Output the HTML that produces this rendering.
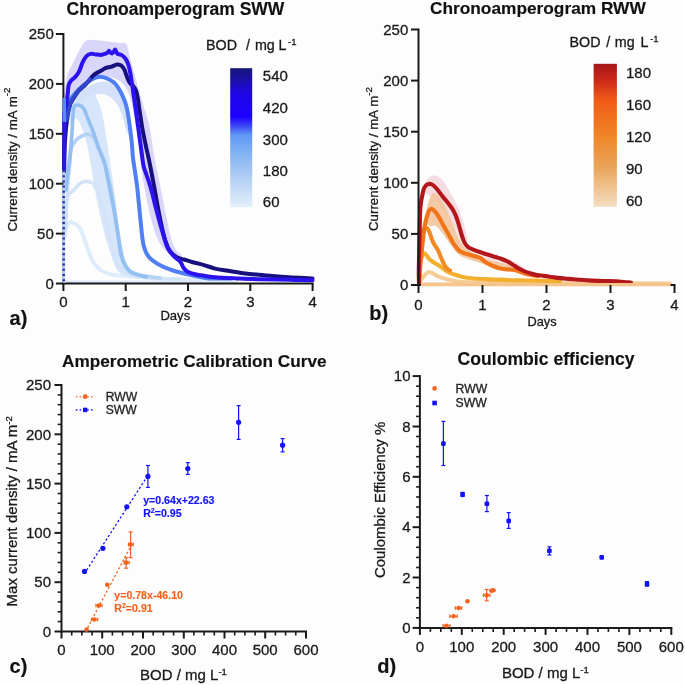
<!DOCTYPE html>
<html><head><meta charset="utf-8"><style>
html,body{margin:0;padding:0;background:#fff;}
svg{display:block;font-family:"Liberation Sans", sans-serif;filter:blur(0.45px);}
</style></head><body>
<svg width="685" height="685" viewBox="0 0 685 685">
<rect width="685" height="685" fill="#fdfdfd"/>
<text x="66.6" y="15.2" font-size="17.5" text-anchor="start" font-weight="bold" fill="#111" stroke="#111" stroke-width="0.15" >Chronoamperogram SWW</text>
<text x="430.0" y="14.0" font-size="17.3" text-anchor="start" font-weight="bold" fill="#111" stroke="#111" stroke-width="0.15" >Chronoamperogram RWW</text>
<text x="62.0" y="366.6" font-size="17.2" text-anchor="start" font-weight="bold" fill="#111" stroke="#111" stroke-width="0.15" >Amperometric Calibration Curve</text>
<text x="457.6" y="365.0" font-size="17.6" text-anchor="start" font-weight="bold" fill="#111" stroke="#111" stroke-width="0.15" >Coulombic efficiency</text>
<path d="M64.0,100.0 C63.8,94.5 65.3,86.5 66.0,82.0 C66.7,77.5 66.5,76.9 68.0,73.0 C69.5,69.1 73.2,62.5 75.2,58.5 C77.2,54.5 78.4,51.9 80.0,49.0 C81.6,46.1 82.7,42.9 84.7,41.4 C86.7,39.9 89.8,40.0 92.0,39.8 C94.2,39.6 95.7,40.0 98.0,40.2 C100.3,40.5 103.5,40.9 106.0,41.3 C108.5,41.6 110.8,42.0 113.1,42.3 C115.4,42.6 117.8,42.6 120.0,43.0 C122.2,43.4 124.7,41.9 126.4,44.5 C128.1,47.1 128.6,52.7 130.2,58.5 C131.8,64.3 133.7,71.4 135.9,79.3 C138.1,87.2 141.3,98.3 143.5,105.9 C145.7,113.5 147.3,115.9 149.2,124.9 C151.1,133.9 153.3,150.8 154.9,160.0 C156.5,169.2 157.7,173.3 159.0,180.0 C160.3,186.7 161.7,193.3 163.0,200.0 C164.3,206.7 165.7,213.7 167.0,220.0 C168.3,226.3 169.5,233.0 171.0,238.0 C172.5,243.0 174.2,247.0 176.0,250.0 C177.8,253.0 182.0,254.7 182.0,256.0 C182.0,257.3 178.5,258.7 176.0,258.0 C173.5,257.3 170.0,255.0 167.0,252.0 C164.0,249.0 160.8,246.2 158.0,240.0 C155.2,233.8 152.3,224.2 150.0,215.0 C147.7,205.8 145.8,195.0 144.0,185.0 C142.2,175.0 140.8,164.5 139.5,155.0 C138.2,145.5 137.3,136.8 136.0,128.0 C134.7,119.2 133.2,108.7 131.5,102.0 C129.8,95.3 128.2,91.7 126.0,88.0 C123.8,84.3 121.0,81.9 118.0,80.0 C115.0,78.1 111.0,77.0 108.0,76.5 C105.0,76.0 103.0,76.1 100.0,77.0 C97.0,77.9 93.3,79.8 90.0,82.0 C86.7,84.2 83.0,87.0 80.0,90.0 C77.0,93.0 74.2,95.8 72.0,100.0 C69.8,104.2 68.3,115.0 67.0,115.0 C65.7,115.0 64.2,105.5 64.0,100.0Z" fill="#d3cff9" fill-opacity="0.85" stroke="none"/>
<path d="M66.0,118.0 C66.3,115.3 68.2,109.8 70.0,106.0 C71.8,102.2 74.3,98.0 77.0,95.0 C79.7,92.0 82.8,90.0 86.0,88.0 C89.2,86.0 92.7,84.0 96.0,83.0 C99.3,82.0 102.8,81.5 106.0,82.0 C109.2,82.5 112.5,84.0 115.0,86.0 C117.5,88.0 119.3,91.0 121.0,94.0 C122.7,97.0 123.8,100.0 125.0,104.0 C126.2,108.0 127.2,112.8 128.0,118.0 C128.8,123.2 130.2,132.7 130.0,135.0 C129.8,137.3 128.3,135.3 127.0,132.0 C125.7,128.7 123.7,119.7 122.0,115.0 C120.3,110.3 119.0,107.0 117.0,104.0 C115.0,101.0 112.5,98.7 110.0,97.0 C107.5,95.3 105.0,94.2 102.0,94.0 C99.0,93.8 95.3,94.7 92.0,96.0 C88.7,97.3 85.0,99.5 82.0,102.0 C79.0,104.5 76.3,107.7 74.0,111.0 C71.7,114.3 69.3,120.8 68.0,122.0 C66.7,123.2 65.7,120.7 66.0,118.0Z" fill="#c3d3f8" fill-opacity="0.7" stroke="none"/>
<path d="M70.0,112.0 C70.5,107.8 72.3,102.8 74.0,100.0 C75.7,97.2 77.7,96.7 80.0,95.5 C82.3,94.3 85.7,93.2 88.0,93.0 C90.3,92.8 92.2,92.3 94.0,94.0 C95.8,95.7 97.5,99.0 99.0,103.0 C100.5,107.0 101.8,112.7 103.0,118.0 C104.2,123.3 105.0,128.8 106.0,135.0 C107.0,141.2 108.0,148.3 109.0,155.0 C110.0,161.7 110.9,167.5 112.0,175.0 C113.1,182.5 114.4,191.7 115.5,200.0 C116.6,208.3 117.5,217.0 118.5,225.0 C119.5,233.0 120.4,241.7 121.5,248.0 C122.6,254.3 123.8,259.0 125.0,263.0 C126.2,267.0 129.5,270.2 129.0,272.0 C128.5,273.8 124.2,274.7 122.0,274.0 C119.8,273.3 118.0,271.7 116.0,268.0 C114.0,264.3 112.0,258.0 110.0,252.0 C108.0,246.0 105.8,239.0 104.0,232.0 C102.2,225.0 100.5,217.0 99.0,210.0 C97.5,203.0 96.3,197.5 95.0,190.0 C93.7,182.5 92.3,172.5 91.0,165.0 C89.7,157.5 88.5,151.2 87.0,145.0 C85.5,138.8 83.8,132.5 82.0,128.0 C80.2,123.5 77.8,118.5 76.0,118.0 C74.2,117.5 72.0,126.0 71.0,125.0 C70.0,124.0 69.5,116.2 70.0,112.0Z" fill="#d3e3fa" fill-opacity="0.9" stroke="none"/>
<path d="M65.0,236.0 C65.4,234.2 66.0,227.2 67.2,225.0 C68.4,222.8 70.1,221.8 72.3,222.5 C74.5,223.2 78.0,225.1 80.4,229.0 C82.8,232.9 84.5,240.4 86.6,245.7 C88.6,251.0 90.3,256.9 92.7,261.0 C95.1,265.1 97.8,268.0 100.9,270.2 C104.0,272.4 106.2,273.3 111.1,274.3 C115.9,275.3 121.8,275.6 130.0,276.3 C138.2,277.0 148.3,277.9 160.0,278.5 C171.7,279.1 187.3,279.6 200.0,280.0 C212.7,280.4 230.0,280.8 236.0,281.0" fill="none" stroke="#deebfa" stroke-width="3.8" stroke-opacity="1" stroke-linejoin="round" stroke-linecap="round"/>
<path d="M65.0,215.0 C65.5,211.8 66.6,200.1 68.0,196.0 C69.4,191.9 71.2,192.9 73.3,190.7 C75.4,188.5 77.9,184.5 80.4,183.0 C83.0,181.5 86.4,181.2 88.6,181.5 C90.8,181.8 92.0,182.2 93.7,184.5 C95.4,186.8 97.3,190.4 99.0,195.0 C100.7,199.6 102.3,205.3 104.0,212.0 C105.7,218.7 107.3,227.8 109.0,235.0 C110.7,242.2 112.2,249.5 114.0,255.0 C115.8,260.5 117.3,264.7 120.0,268.0 C122.7,271.3 125.0,273.3 130.0,275.0 C135.0,276.7 141.7,277.2 150.0,278.0 C158.3,278.8 175.0,279.2 180.0,279.5" fill="none" stroke="#d3e4f8" stroke-width="3.6" stroke-opacity="1" stroke-linejoin="round" stroke-linecap="round"/>
<path d="M66.0,230.0 C66.2,225.0 66.5,209.2 67.0,200.0 C67.5,190.8 68.5,181.7 69.0,175.0 C69.5,168.3 69.8,165.8 70.2,160.0 C70.6,154.2 71.3,143.3 71.5,140.0" fill="none" stroke="#cfe1f8" stroke-width="3.0" stroke-opacity="1" stroke-linejoin="round" stroke-linecap="round"/>
<path d="M66.0,185.0 C66.7,179.5 68.9,159.0 70.2,152.0 C71.5,145.0 72.6,145.3 74.0,143.0 C75.4,140.7 76.3,139.4 78.4,138.0 C80.5,136.6 84.4,134.7 86.6,134.3 C88.8,134.0 90.2,134.8 91.7,135.9 C93.2,137.0 94.4,138.6 95.8,141.0 C97.2,143.4 98.6,147.0 99.9,150.2 C101.2,153.4 102.6,156.3 103.9,160.4 C105.2,164.5 106.7,169.2 108.0,175.0 C109.3,180.8 110.7,187.5 112.0,195.0 C113.3,202.5 114.7,211.7 116.0,220.0 C117.3,228.3 118.7,238.0 120.0,245.0 C121.3,252.0 122.3,257.7 124.0,262.0 C125.7,266.3 127.3,268.8 130.0,271.0 C132.7,273.2 135.0,273.8 140.0,275.0 C145.0,276.2 156.7,277.5 160.0,278.0" fill="none" stroke="#b4d2f5" stroke-width="3.6" stroke-opacity="1" stroke-linejoin="round" stroke-linecap="round"/>
<path d="M66.0,190.0 C66.4,186.7 67.8,175.6 68.5,170.0 C69.2,164.4 69.7,162.0 70.2,156.3 C70.8,150.6 71.3,142.8 71.8,135.9 C72.3,129.0 72.6,119.9 73.0,115.0 C73.4,110.1 73.2,108.1 74.3,106.5 C75.4,104.9 77.9,104.9 79.4,105.2 C80.9,105.5 82.3,106.6 83.5,108.3 C84.7,110.0 85.4,112.5 86.6,115.4 C87.8,118.3 89.3,122.3 90.7,125.7 C92.1,129.1 93.5,132.5 94.7,135.9 C95.9,139.3 96.6,142.7 97.8,146.1 C99.0,149.5 100.7,153.2 101.9,156.3 C103.1,159.5 104.0,161.1 105.0,165.0 C106.0,168.9 107.0,175.0 108.0,180.0 C109.0,185.0 110.0,190.0 111.0,195.0 C112.0,200.0 113.0,204.2 114.0,210.0 C115.0,215.8 116.0,222.3 117.2,230.0 C118.4,237.7 119.9,249.9 121.3,255.9 C122.7,261.9 124.0,263.5 125.4,266.1 C126.9,268.7 127.9,270.0 130.0,271.5 C132.1,273.0 135.3,274.1 138.0,275.0 C140.7,275.9 144.7,276.7 146.0,277.0" fill="none" stroke="#93bff1" stroke-width="3.6" stroke-opacity="1" stroke-linejoin="round" stroke-linecap="round"/>
<path d="M64.0,125.0 C64.3,122.7 65.1,115.0 66.0,111.0 C66.9,107.0 67.7,104.0 69.2,101.0 C70.8,98.0 73.1,95.7 75.3,93.2 C77.5,90.7 79.9,88.3 82.5,86.1 C85.1,83.9 88.2,81.5 90.7,80.0 C93.2,78.5 95.6,77.4 97.8,77.0 C100.0,76.6 101.9,76.9 103.9,77.4 C106.0,77.9 108.2,78.9 110.1,80.0 C112.0,81.1 113.7,82.0 115.5,84.0 C117.3,86.0 119.2,89.1 120.8,92.2 C122.4,95.3 124.0,98.9 125.2,102.4 C126.4,105.9 127.0,108.7 127.8,113.0 C128.6,117.3 129.3,123.0 130.0,128.0 C130.7,133.0 131.3,138.0 131.8,143.0 C132.3,148.0 132.4,153.0 133.0,158.0 C133.6,163.0 134.5,168.0 135.2,173.0 C135.9,178.0 136.7,182.7 137.3,188.0 C137.9,193.3 138.4,199.3 139.0,205.0 C139.6,210.7 139.9,215.4 140.7,222.1 C141.4,228.8 142.2,239.2 143.5,244.9 C144.8,250.6 145.9,253.1 148.3,256.3 C150.7,259.5 153.7,261.5 157.8,263.9 C161.9,266.3 167.3,268.6 173.0,270.5 C178.7,272.4 185.6,273.9 191.9,275.3 C198.2,276.7 204.6,278.1 210.9,279.0 C217.2,279.9 226.8,280.2 230.0,280.5" fill="none" stroke="#4f7ff2" stroke-width="4.0" stroke-opacity="1" stroke-linejoin="round" stroke-linecap="round"/>
<path d="M64.0,172.0 C64.2,166.7 64.4,149.3 65.0,140.0 C65.6,130.7 66.6,122.0 67.5,116.0 C68.4,110.0 69.0,107.4 70.3,104.0 C71.6,100.6 73.8,97.8 75.3,95.5 C76.8,93.2 77.3,92.3 79.0,90.5 C80.7,88.7 83.0,87.1 85.5,84.5 C88.0,81.9 91.1,77.3 93.7,75.0 C96.3,72.7 98.9,72.0 100.9,70.8 C103.0,69.6 104.3,68.6 106.0,67.9 C107.7,67.2 109.2,67.3 111.1,66.8 C113.0,66.2 115.5,64.8 117.2,64.6 C118.9,64.4 120.1,64.8 121.3,65.7 C122.5,66.6 123.4,67.7 124.4,69.7 C125.4,71.7 126.5,75.7 127.4,77.9 C128.3,80.1 129.1,81.7 130.0,83.0 C130.9,84.3 131.8,84.4 132.8,85.6 C133.8,86.8 135.0,88.1 135.8,90.0 C136.6,91.9 137.0,93.7 137.6,97.0 C138.2,100.3 138.7,104.9 139.5,110.0 C140.3,115.1 141.2,121.8 142.2,127.6 C143.2,133.4 144.6,139.7 145.7,145.1 C146.8,150.5 148.2,156.0 149.0,160.0 C149.8,164.0 149.9,164.3 150.8,169.0 C151.7,173.7 153.2,181.7 154.4,188.0 C155.6,194.3 156.6,200.6 157.8,206.9 C159.0,213.2 160.3,220.2 161.6,225.9 C162.9,231.6 164.0,236.8 165.4,241.1 C166.8,245.4 168.2,248.8 170.1,251.5 C172.0,254.2 174.5,255.9 176.8,257.2 C179.1,258.5 181.5,258.7 184.0,259.5 C186.5,260.3 188.7,261.1 191.9,262.0 C195.1,262.9 199.5,263.7 203.3,264.8 C207.2,265.9 210.9,267.6 215.0,268.6 C219.1,269.6 223.6,270.1 228.0,270.8 C232.4,271.5 236.6,272.3 241.3,272.9 C246.0,273.5 250.9,274.1 256.0,274.6 C261.1,275.1 266.0,275.5 272.0,276.0 C278.0,276.5 285.2,277.0 292.0,277.4 C298.8,277.8 309.1,278.4 312.5,278.6" fill="none" stroke="#17107f" stroke-width="4.0" stroke-opacity="1" stroke-linejoin="round" stroke-linecap="round"/>
<path d="M64.0,170.0 C64.1,163.0 64.2,138.7 64.6,128.0 C65.0,117.3 65.7,111.7 66.2,106.0 C66.7,100.3 67.3,97.5 67.7,94.0 C68.1,90.5 68.1,87.2 68.7,85.0 C69.3,82.8 70.1,81.8 71.2,80.5 C72.3,79.2 73.9,78.5 75.3,76.9 C76.7,75.3 78.2,73.2 79.4,70.8 C80.6,68.4 81.3,65.1 82.5,62.6 C83.7,60.1 85.2,57.5 86.6,56.0 C88.0,54.5 89.2,54.2 90.7,53.9 C92.2,53.6 94.1,54.2 95.8,54.4 C97.5,54.6 99.4,55.0 100.9,54.9 C102.4,54.8 103.9,54.3 105.0,53.9 C106.1,53.5 106.9,53.1 107.6,52.6 C108.3,52.1 108.5,50.8 109.0,50.8 C109.5,50.8 110.0,52.4 110.5,52.8 C111.0,53.2 111.5,53.6 112.1,53.4 C112.6,53.2 113.3,52.1 113.8,51.5 C114.3,50.9 114.8,49.4 115.2,49.6 C115.7,49.8 116.1,51.8 116.5,52.5 C116.9,53.2 116.8,53.5 117.6,53.9 C118.4,54.3 120.0,54.1 121.3,54.9 C122.6,55.7 124.2,56.9 125.4,58.5 C126.6,60.1 127.5,62.3 128.3,64.6 C129.1,66.8 129.5,69.1 130.1,72.0 C130.7,74.9 131.2,77.7 131.8,82.0 C132.5,86.3 133.2,92.2 134.0,97.8 C134.8,103.3 135.6,109.2 136.5,115.3 C137.4,121.4 138.4,128.8 139.2,134.6 C140.0,140.4 140.6,144.8 141.3,150.0 C142.0,155.2 142.8,162.1 143.6,166.0 C144.4,169.9 145.2,171.0 146.0,173.5 C146.8,176.0 147.6,177.9 148.6,181.0 C149.6,184.1 150.6,187.5 151.8,191.8 C153.0,196.1 154.3,201.9 155.6,206.9 C156.9,211.9 158.4,217.3 159.7,222.1 C161.0,226.8 162.1,231.0 163.5,235.4 C164.9,239.8 166.3,245.1 168.2,248.7 C170.1,252.3 172.8,255.0 174.9,257.2 C177.0,259.4 179.1,260.2 180.5,262.0 C181.9,263.8 182.2,266.0 183.4,267.7 C184.7,269.4 186.1,270.9 188.0,272.0 C189.9,273.1 192.8,273.8 195.0,274.3 C197.2,274.9 198.1,274.8 201.4,275.3 C204.7,275.8 208.6,276.6 215.0,277.2 C221.4,277.8 232.2,278.2 240.0,278.6 C247.8,279.0 253.4,279.1 261.7,279.3 C270.0,279.5 281.5,279.7 290.0,279.8 C298.5,279.9 308.8,280.1 312.5,280.2" fill="none" stroke="#2b12ee" stroke-width="4.0" stroke-opacity="1" stroke-linejoin="round" stroke-linecap="round"/>
<path d="M66.5,120.0 C67.1,117.3 68.8,108.1 70.3,104.0 C71.8,99.9 73.8,97.8 75.3,95.5 C76.8,93.2 77.3,92.3 79.0,90.5 C80.7,88.7 83.7,86.4 85.5,84.5 C87.3,82.6 89.2,79.9 90.0,79.0" fill="none" stroke="#3c5ae6" stroke-width="3.6" stroke-opacity="0.75" stroke-linejoin="round" stroke-linecap="round"/>
<line x1="64.0" y1="281.8" x2="236.0" y2="281.8" stroke="#dbe9fa" stroke-width="2.6" />
<line x1="63.4" y1="33.0" x2="63.4" y2="284.5" stroke="#1a1a1a" stroke-width="2.0" />
<line x1="62.4" y1="283.5" x2="313.6" y2="283.5" stroke="#1a1a1a" stroke-width="2.0" />
<line x1="63.9" y1="112.0" x2="63.9" y2="170.0" stroke="#2a18e0" stroke-width="3.2" />
<line x1="64.3" y1="98.0" x2="64.3" y2="122.0" stroke="#5a8af2" stroke-width="3.4" />
<line x1="63.7" y1="170.0" x2="63.7" y2="283.0" stroke="#b4cff3" stroke-width="3.0" />
<line x1="63.7" y1="170.0" x2="63.7" y2="283.0" stroke="#2626a8" stroke-width="2.4" stroke-dasharray="2 3.2"/>
<line x1="55.9" y1="283.5" x2="63.4" y2="283.5" stroke="#1a1a1a" stroke-width="2.0" />
<text x="53.8" y="288.7" font-size="15.0" text-anchor="end" font-weight="normal" fill="#1a1a1a" stroke="#1a1a1a" stroke-width="0.3" >0</text>
<line x1="55.9" y1="233.6" x2="63.4" y2="233.6" stroke="#1a1a1a" stroke-width="2.0" />
<text x="53.8" y="238.8" font-size="15.0" text-anchor="end" font-weight="normal" fill="#1a1a1a" stroke="#1a1a1a" stroke-width="0.3" >50</text>
<line x1="55.9" y1="183.7" x2="63.4" y2="183.7" stroke="#1a1a1a" stroke-width="2.0" />
<text x="53.8" y="188.9" font-size="15.0" text-anchor="end" font-weight="normal" fill="#1a1a1a" stroke="#1a1a1a" stroke-width="0.3" >100</text>
<line x1="55.9" y1="133.8" x2="63.4" y2="133.8" stroke="#1a1a1a" stroke-width="2.0" />
<text x="53.8" y="139.0" font-size="15.0" text-anchor="end" font-weight="normal" fill="#1a1a1a" stroke="#1a1a1a" stroke-width="0.3" >150</text>
<line x1="55.9" y1="83.9" x2="63.4" y2="83.9" stroke="#1a1a1a" stroke-width="2.0" />
<text x="53.8" y="89.1" font-size="15.0" text-anchor="end" font-weight="normal" fill="#1a1a1a" stroke="#1a1a1a" stroke-width="0.3" >200</text>
<line x1="55.9" y1="34.0" x2="63.4" y2="34.0" stroke="#1a1a1a" stroke-width="2.0" />
<text x="53.8" y="39.2" font-size="15.0" text-anchor="end" font-weight="normal" fill="#1a1a1a" stroke="#1a1a1a" stroke-width="0.3" >250</text>
<line x1="63.4" y1="283.5" x2="63.4" y2="291.0" stroke="#1a1a1a" stroke-width="2.0" />
<text x="63.4" y="307.2" font-size="15.0" text-anchor="middle" font-weight="normal" fill="#1a1a1a" stroke="#1a1a1a" stroke-width="0.3" >0</text>
<line x1="125.7" y1="283.5" x2="125.7" y2="291.0" stroke="#1a1a1a" stroke-width="2.0" />
<text x="125.7" y="307.2" font-size="15.0" text-anchor="middle" font-weight="normal" fill="#1a1a1a" stroke="#1a1a1a" stroke-width="0.3" >1</text>
<line x1="188.0" y1="283.5" x2="188.0" y2="291.0" stroke="#1a1a1a" stroke-width="2.0" />
<text x="188.0" y="307.2" font-size="15.0" text-anchor="middle" font-weight="normal" fill="#1a1a1a" stroke="#1a1a1a" stroke-width="0.3" >2</text>
<line x1="250.3" y1="283.5" x2="250.3" y2="291.0" stroke="#1a1a1a" stroke-width="2.0" />
<text x="250.3" y="307.2" font-size="15.0" text-anchor="middle" font-weight="normal" fill="#1a1a1a" stroke="#1a1a1a" stroke-width="0.3" >3</text>
<line x1="312.6" y1="283.5" x2="312.6" y2="291.0" stroke="#1a1a1a" stroke-width="2.0" />
<text x="312.6" y="307.2" font-size="15.0" text-anchor="middle" font-weight="normal" fill="#1a1a1a" stroke="#1a1a1a" stroke-width="0.3" >4</text>
<text x="175.3" y="320.2" font-size="13.1" text-anchor="middle" font-weight="normal" fill="#1a1a1a" stroke="#1a1a1a" stroke-width="0.3" >Days</text>
<text x="9.6" y="325.0" font-size="20" text-anchor="start" font-weight="bold" fill="#111" stroke="#111" stroke-width="0.15" >a)</text>
<text transform="translate(16.6,231.5) rotate(-90)" font-size="13.3" fill="#1a1a1a" stroke="#1a1a1a" stroke-width="0.3">Current density / mA m<tspan dy="-6.5" font-size="9.8">-2</tspan></text>
<defs><linearGradient id="gA" x1="0" y1="0" x2="0" y2="1">
<stop offset="0" stop-color="#161478"/><stop offset="0.08" stop-color="#1c10a8"/>
<stop offset="0.18" stop-color="#2006e6"/><stop offset="0.35" stop-color="#1c00ff"/>
<stop offset="0.41" stop-color="#3a40f2"/><stop offset="0.48" stop-color="#5f98f6"/>
<stop offset="0.6" stop-color="#7fb0f2"/><stop offset="0.8" stop-color="#b5d0f4"/>
<stop offset="1" stop-color="#e3f0fb"/></linearGradient>
<linearGradient id="gB" x1="0" y1="0" x2="0" y2="1">
<stop offset="0" stop-color="#a8151a"/><stop offset="0.12" stop-color="#cc2a18"/>
<stop offset="0.25" stop-color="#f05a18"/><stop offset="0.5" stop-color="#f08426"/>
<stop offset="0.72" stop-color="#eaa458"/><stop offset="1" stop-color="#f6dec2"/></linearGradient></defs>
<rect x="230.2" y="68.2" width="22" height="139" fill="url(#gA)"/>
<text y="50.1" font-size="14.3" fill="#1a1a1a" stroke="#1a1a1a" stroke-width="0.3"><tspan x="206.0">BOD</tspan><tspan x="246.0">/</tspan><tspan x="254.9">mg</tspan><tspan x="278.4">L</tspan><tspan x="288.0" y="45.2" font-size="9.5">-1</tspan></text>
<text x="262.8" y="80.8" font-size="15.0" text-anchor="start" font-weight="normal" fill="#1a1a1a" stroke="#1a1a1a" stroke-width="0.3" >540</text>
<text x="262.8" y="112.9" font-size="15.0" text-anchor="start" font-weight="normal" fill="#1a1a1a" stroke="#1a1a1a" stroke-width="0.3" >420</text>
<text x="262.8" y="144.9" font-size="15.0" text-anchor="start" font-weight="normal" fill="#1a1a1a" stroke="#1a1a1a" stroke-width="0.3" >300</text>
<text x="262.8" y="176.0" font-size="15.0" text-anchor="start" font-weight="normal" fill="#1a1a1a" stroke="#1a1a1a" stroke-width="0.3" >180</text>
<text x="262.8" y="207.2" font-size="15.0" text-anchor="start" font-weight="normal" fill="#1a1a1a" stroke="#1a1a1a" stroke-width="0.3" >60</text>
<path d="M424.0,185.0 C424.5,182.2 427.8,178.5 430.0,177.0 C432.2,175.5 434.7,175.2 437.0,176.0 C439.3,176.8 441.8,179.3 444.0,182.0 C446.2,184.7 448.0,188.5 450.0,192.0 C452.0,195.5 454.2,199.2 456.0,203.0 C457.8,206.8 459.5,210.8 461.0,215.0 C462.5,219.2 464.0,223.8 465.0,228.0 C466.0,232.2 467.5,237.7 467.0,240.0 C466.5,242.3 463.7,243.3 462.0,242.0 C460.3,240.7 459.0,235.7 457.0,232.0 C455.0,228.3 452.5,224.0 450.0,220.0 C447.5,216.0 444.7,211.7 442.0,208.0 C439.3,204.3 436.5,200.3 434.0,198.0 C431.5,195.7 428.7,196.2 427.0,194.0 C425.3,191.8 423.5,187.8 424.0,185.0Z" fill="#f3d3d8" fill-opacity="0.8" stroke="none"/>
<path d="M425.0,220.0 C424.8,215.7 427.5,204.5 429.0,200.0 C430.5,195.5 432.2,193.3 434.0,193.0 C435.8,192.7 438.0,195.5 440.0,198.0 C442.0,200.5 444.0,204.0 446.0,208.0 C448.0,212.0 450.2,217.7 452.0,222.0 C453.8,226.3 455.3,230.3 457.0,234.0 C458.7,237.7 460.2,241.3 462.0,244.0 C463.8,246.7 465.0,248.0 468.0,250.0 C471.0,252.0 475.5,254.2 480.0,256.0 C484.5,257.8 490.0,259.6 495.0,261.0 C500.0,262.4 505.8,263.3 510.0,264.5 C514.2,265.7 520.0,267.0 520.0,268.0 C520.0,269.0 514.2,270.7 510.0,270.5 C505.8,270.3 500.0,268.2 495.0,267.0 C490.0,265.8 484.5,264.3 480.0,263.0 C475.5,261.7 471.7,260.5 468.0,259.0 C464.3,257.5 461.0,256.5 458.0,254.0 C455.0,251.5 452.5,247.3 450.0,244.0 C447.5,240.7 445.3,237.0 443.0,234.0 C440.7,231.0 438.2,227.3 436.0,226.0 C433.8,224.7 431.8,227.0 430.0,226.0 C428.2,225.0 425.2,224.3 425.0,220.0Z" fill="#f3c49c" fill-opacity="0.9" stroke="none"/>
<path d="M480.0,255.0 C482.5,254.7 494.2,255.8 500.0,257.0 C505.8,258.2 510.8,260.2 515.0,262.0 C519.2,263.8 525.0,267.2 525.0,268.0 C525.0,268.8 519.2,268.0 515.0,267.0 C510.8,266.0 505.0,263.3 500.0,262.0 C495.0,260.7 488.3,260.2 485.0,259.0 C481.7,257.8 477.5,255.3 480.0,255.0Z" fill="#f3dce0" fill-opacity="0.8" stroke="none"/>
<path d="M419.0,283.0 C419.8,281.8 422.3,277.8 424.0,276.0 C425.7,274.2 427.3,272.3 429.0,272.0 C430.7,271.7 432.4,273.2 434.0,274.0 C435.6,274.8 436.2,275.8 438.5,276.7 C440.8,277.6 444.9,278.7 448.0,279.5 C451.1,280.3 452.9,281.0 457.4,281.5 C461.9,282.0 467.9,282.2 475.0,282.5 C482.1,282.8 485.8,282.9 500.0,283.0 C514.2,283.1 531.7,283.2 560.0,283.3 C588.3,283.4 651.7,283.5 670.0,283.5" fill="none" stroke="#f6cc98" stroke-width="4.1" stroke-opacity="1" stroke-linejoin="round" stroke-linecap="round"/>
<line x1="420.0" y1="284.2" x2="671.0" y2="284.2" stroke="#f5c98e" stroke-width="3.6" />
<path d="M419.0,282.0 C419.2,278.7 419.9,266.5 420.5,262.0 C421.1,257.5 421.8,256.4 422.5,255.0 C423.2,253.6 423.9,252.9 425.0,253.5 C426.1,254.1 427.7,257.3 429.0,258.7 C430.3,260.1 431.4,260.9 433.0,262.0 C434.6,263.1 436.8,264.2 438.5,265.3 C440.2,266.4 441.4,267.4 443.0,268.5 C444.6,269.6 445.8,270.9 448.0,272.0 C450.2,273.1 452.9,274.1 456.0,275.0 C459.1,275.9 461.2,277.0 466.9,277.7 C472.6,278.4 479.5,278.9 490.0,279.4 C500.5,279.9 518.3,280.2 530.0,280.5 C541.7,280.8 555.0,280.9 560.0,281.0" fill="none" stroke="#f2b02e" stroke-width="4.1" stroke-opacity="1" stroke-linejoin="round" stroke-linecap="round"/>
<path d="M419.0,275.0 C419.3,270.0 420.3,252.5 421.0,245.0 C421.7,237.5 422.4,233.1 423.3,230.2 C424.2,227.3 425.2,227.6 426.1,227.8 C427.1,228.0 427.9,228.9 429.0,231.2 C430.1,233.5 431.6,239.0 432.8,241.6 C434.0,244.2 435.1,245.4 436.0,247.0 C436.9,248.6 437.7,249.3 438.5,251.1 C439.3,252.8 440.1,255.3 441.0,257.5 C441.9,259.7 443.2,262.6 444.2,264.4 C445.2,266.2 446.0,267.5 447.0,268.5 C448.0,269.5 449.5,270.2 450.0,270.5" fill="none" stroke="#f08a22" stroke-width="4.1" stroke-opacity="1" stroke-linejoin="round" stroke-linecap="round"/>
<path d="M419.0,283.0 C419.3,278.8 420.2,266.0 421.0,258.0 C421.8,250.0 422.8,240.8 423.5,235.0 C424.2,229.2 424.5,226.8 425.3,223.0 C426.1,219.2 427.5,214.4 428.5,212.0 C429.5,209.6 430.4,209.0 431.4,208.8 C432.4,208.6 433.5,210.0 434.5,211.0 C435.5,212.0 436.4,213.2 437.5,214.9 C438.6,216.6 439.7,218.7 441.0,221.0 C442.3,223.3 443.9,226.3 445.4,228.9 C446.9,231.5 448.3,234.2 449.8,236.8 C451.3,239.4 452.6,242.4 454.2,244.7 C455.8,247.0 457.8,249.5 459.4,250.8 C460.9,252.2 462.0,252.2 463.5,252.8 C465.0,253.4 466.4,253.8 468.2,254.3 C469.9,254.8 472.0,255.4 474.0,256.0 C476.0,256.6 478.0,256.7 480.0,257.8 C482.0,258.9 483.9,261.2 485.9,262.5 C487.9,263.8 489.8,264.6 492.0,265.5 C494.2,266.4 496.9,267.6 499.2,268.2 C501.5,268.8 503.5,269.0 506.0,269.3 C508.5,269.6 511.7,269.6 514.4,270.1 C517.1,270.6 519.4,271.7 522.0,272.5 C524.6,273.3 527.3,274.2 530.0,274.8 C532.7,275.4 536.7,276.1 538.0,276.3" fill="none" stroke="#f07418" stroke-width="4.1" stroke-opacity="1" stroke-linejoin="round" stroke-linecap="round"/>
<path d="M419.0,283.0 C419.0,280.8 418.7,278.0 418.8,270.0 C418.9,262.0 419.3,245.4 419.6,235.0 C419.9,224.6 419.8,214.8 420.4,207.4 C421.0,200.0 422.4,194.1 423.3,190.4 C424.2,186.8 425.1,186.6 426.0,185.5 C426.9,184.4 428.0,184.1 429.0,183.9 C430.0,183.7 431.1,184.1 432.0,184.5 C432.9,184.9 433.6,185.5 434.7,186.6 C435.8,187.7 437.2,189.4 438.5,191.0 C439.8,192.6 441.1,194.5 442.3,196.1 C443.6,197.7 444.7,198.9 446.0,200.5 C447.3,202.1 448.7,203.9 449.9,205.5 C451.1,207.1 452.1,208.4 453.0,210.0 C453.9,211.6 454.7,213.0 455.5,215.0 C456.3,217.0 457.2,219.5 458.0,222.0 C458.8,224.5 459.6,227.6 460.3,230.2 C461.1,232.8 461.7,235.3 462.5,237.5 C463.3,239.7 464.0,241.9 465.0,243.5 C466.0,245.1 467.2,246.3 468.5,247.3 C469.8,248.3 470.9,248.7 472.6,249.4 C474.4,250.2 476.8,251.0 479.0,251.8 C481.2,252.6 483.6,253.3 485.9,254.0 C488.2,254.7 490.5,255.4 493.0,256.2 C495.5,257.0 498.8,257.9 501.1,258.7 C503.4,259.5 505.1,260.2 507.0,261.2 C508.9,262.1 510.7,263.3 512.5,264.4 C514.3,265.5 516.1,266.9 518.0,268.0 C519.9,269.1 521.9,270.1 523.9,271.0 C525.9,271.9 527.8,272.5 530.0,273.2 C532.2,273.9 534.6,274.6 537.0,275.0 C539.4,275.4 540.9,275.5 544.1,275.9 C547.3,276.3 552.0,277.1 556.0,277.6 C560.0,278.1 564.2,278.5 568.2,278.9 C572.2,279.3 576.0,279.5 580.0,279.8 C584.0,280.1 588.3,280.4 592.3,280.6 C596.3,280.8 600.0,280.9 604.0,281.0 C608.0,281.1 613.0,281.1 616.3,281.3 C619.6,281.5 621.6,281.8 624.0,282.0 C626.4,282.2 629.7,282.4 630.8,282.5" fill="none" stroke="#b3161b" stroke-width="4.1" stroke-opacity="1" stroke-linejoin="round" stroke-linecap="round"/>
<line x1="418.5" y1="28.5" x2="418.5" y2="286.0" stroke="#1a1a1a" stroke-width="2.0" />
<line x1="417.5" y1="285.0" x2="675.5" y2="285.0" stroke="#1a1a1a" stroke-width="2.0" />
<line x1="421.0" y1="284.6" x2="670.5" y2="284.6" stroke="#f4c48c" stroke-width="3.2" />
<line x1="411.0" y1="285.0" x2="418.5" y2="285.0" stroke="#1a1a1a" stroke-width="2.0" />
<text x="408.3" y="290.2" font-size="15.0" text-anchor="end" font-weight="normal" fill="#1a1a1a" stroke="#1a1a1a" stroke-width="0.3" >0</text>
<line x1="411.0" y1="233.9" x2="418.5" y2="233.9" stroke="#1a1a1a" stroke-width="2.0" />
<text x="408.3" y="239.1" font-size="15.0" text-anchor="end" font-weight="normal" fill="#1a1a1a" stroke="#1a1a1a" stroke-width="0.3" >50</text>
<line x1="411.0" y1="182.8" x2="418.5" y2="182.8" stroke="#1a1a1a" stroke-width="2.0" />
<text x="408.3" y="188.0" font-size="15.0" text-anchor="end" font-weight="normal" fill="#1a1a1a" stroke="#1a1a1a" stroke-width="0.3" >100</text>
<line x1="411.0" y1="131.7" x2="418.5" y2="131.7" stroke="#1a1a1a" stroke-width="2.0" />
<text x="408.3" y="136.9" font-size="15.0" text-anchor="end" font-weight="normal" fill="#1a1a1a" stroke="#1a1a1a" stroke-width="0.3" >150</text>
<line x1="411.0" y1="80.6" x2="418.5" y2="80.6" stroke="#1a1a1a" stroke-width="2.0" />
<text x="408.3" y="85.8" font-size="15.0" text-anchor="end" font-weight="normal" fill="#1a1a1a" stroke="#1a1a1a" stroke-width="0.3" >200</text>
<line x1="411.0" y1="29.5" x2="418.5" y2="29.5" stroke="#1a1a1a" stroke-width="2.0" />
<text x="408.3" y="34.7" font-size="15.0" text-anchor="end" font-weight="normal" fill="#1a1a1a" stroke="#1a1a1a" stroke-width="0.3" >250</text>
<line x1="418.5" y1="285.0" x2="418.5" y2="293.0" stroke="#1a1a1a" stroke-width="2.0" />
<text x="418.5" y="309.8" font-size="15.0" text-anchor="middle" font-weight="normal" fill="#1a1a1a" stroke="#1a1a1a" stroke-width="0.3" >0</text>
<line x1="482.5" y1="285.0" x2="482.5" y2="293.0" stroke="#1a1a1a" stroke-width="2.0" />
<text x="482.5" y="309.8" font-size="15.0" text-anchor="middle" font-weight="normal" fill="#1a1a1a" stroke="#1a1a1a" stroke-width="0.3" >1</text>
<line x1="546.5" y1="285.0" x2="546.5" y2="293.0" stroke="#1a1a1a" stroke-width="2.0" />
<text x="546.5" y="309.8" font-size="15.0" text-anchor="middle" font-weight="normal" fill="#1a1a1a" stroke="#1a1a1a" stroke-width="0.3" >2</text>
<line x1="610.5" y1="285.0" x2="610.5" y2="293.0" stroke="#1a1a1a" stroke-width="2.0" />
<text x="610.5" y="309.8" font-size="15.0" text-anchor="middle" font-weight="normal" fill="#1a1a1a" stroke="#1a1a1a" stroke-width="0.3" >3</text>
<line x1="674.5" y1="285.0" x2="674.5" y2="293.0" stroke="#1a1a1a" stroke-width="2.0" />
<text x="674.5" y="309.8" font-size="15.0" text-anchor="middle" font-weight="normal" fill="#1a1a1a" stroke="#1a1a1a" stroke-width="0.3" >4</text>
<text x="542.0" y="325.9" font-size="12.8" text-anchor="middle" font-weight="normal" fill="#1a1a1a" stroke="#1a1a1a" stroke-width="0.3" >Days</text>
<text x="369.2" y="320.4" font-size="20" text-anchor="start" font-weight="bold" fill="#111" stroke="#111" stroke-width="0.15" >b)</text>
<text transform="translate(378.4,231.0) rotate(-90)" font-size="13.3" fill="#1a1a1a" stroke="#1a1a1a" stroke-width="0.3">Current density / mA m<tspan dy="-6.5" font-size="9.8">-2</tspan></text>
<rect x="593.6" y="63.8" width="23.3" height="143" fill="url(#gB)"/>
<text y="46.6" font-size="14.3" fill="#1a1a1a" stroke="#1a1a1a" stroke-width="0.3"><tspan x="569.5">BOD</tspan><tspan x="606.2">/</tspan><tspan x="614.8">mg</tspan><tspan x="640.5">L</tspan><tspan x="650.2" y="41.7" font-size="9.5">-1</tspan></text>
<text x="626.0" y="78.0" font-size="15.0" text-anchor="start" font-weight="normal" fill="#1a1a1a" stroke="#1a1a1a" stroke-width="0.3" >180</text>
<text x="626.0" y="110.1" font-size="15.0" text-anchor="start" font-weight="normal" fill="#1a1a1a" stroke="#1a1a1a" stroke-width="0.3" >160</text>
<text x="626.0" y="142.2" font-size="15.0" text-anchor="start" font-weight="normal" fill="#1a1a1a" stroke="#1a1a1a" stroke-width="0.3" >120</text>
<text x="626.0" y="174.3" font-size="15.0" text-anchor="start" font-weight="normal" fill="#1a1a1a" stroke="#1a1a1a" stroke-width="0.3" >90</text>
<text x="626.0" y="206.4" font-size="15.0" text-anchor="start" font-weight="normal" fill="#1a1a1a" stroke="#1a1a1a" stroke-width="0.3" >60</text>
<line x1="61.5" y1="384.0" x2="61.5" y2="632.5" stroke="#1a1a1a" stroke-width="2.0" />
<line x1="60.5" y1="631.5" x2="307.0" y2="631.5" stroke="#1a1a1a" stroke-width="2.0" />
<line x1="54.5" y1="631.5" x2="61.5" y2="631.5" stroke="#1a1a1a" stroke-width="2.0" />
<text x="51.0" y="636.7" font-size="15.0" text-anchor="end" font-weight="normal" fill="#1a1a1a" stroke="#1a1a1a" stroke-width="0.3" >0</text>
<line x1="57.7" y1="621.6" x2="61.5" y2="621.6" stroke="#1a1a1a" stroke-width="1.6" />
<line x1="57.7" y1="611.8" x2="61.5" y2="611.8" stroke="#1a1a1a" stroke-width="1.6" />
<line x1="57.7" y1="601.9" x2="61.5" y2="601.9" stroke="#1a1a1a" stroke-width="1.6" />
<line x1="57.7" y1="592.1" x2="61.5" y2="592.1" stroke="#1a1a1a" stroke-width="1.6" />
<line x1="54.5" y1="582.2" x2="61.5" y2="582.2" stroke="#1a1a1a" stroke-width="2.0" />
<text x="51.0" y="587.4" font-size="15.0" text-anchor="end" font-weight="normal" fill="#1a1a1a" stroke="#1a1a1a" stroke-width="0.3" >50</text>
<line x1="57.7" y1="572.3" x2="61.5" y2="572.3" stroke="#1a1a1a" stroke-width="1.6" />
<line x1="57.7" y1="562.5" x2="61.5" y2="562.5" stroke="#1a1a1a" stroke-width="1.6" />
<line x1="57.7" y1="552.6" x2="61.5" y2="552.6" stroke="#1a1a1a" stroke-width="1.6" />
<line x1="57.7" y1="542.8" x2="61.5" y2="542.8" stroke="#1a1a1a" stroke-width="1.6" />
<line x1="54.5" y1="532.9" x2="61.5" y2="532.9" stroke="#1a1a1a" stroke-width="2.0" />
<text x="51.0" y="538.1" font-size="15.0" text-anchor="end" font-weight="normal" fill="#1a1a1a" stroke="#1a1a1a" stroke-width="0.3" >100</text>
<line x1="57.7" y1="523.0" x2="61.5" y2="523.0" stroke="#1a1a1a" stroke-width="1.6" />
<line x1="57.7" y1="513.2" x2="61.5" y2="513.2" stroke="#1a1a1a" stroke-width="1.6" />
<line x1="57.7" y1="503.3" x2="61.5" y2="503.3" stroke="#1a1a1a" stroke-width="1.6" />
<line x1="57.7" y1="493.5" x2="61.5" y2="493.5" stroke="#1a1a1a" stroke-width="1.6" />
<line x1="54.5" y1="483.6" x2="61.5" y2="483.6" stroke="#1a1a1a" stroke-width="2.0" />
<text x="51.0" y="488.8" font-size="15.0" text-anchor="end" font-weight="normal" fill="#1a1a1a" stroke="#1a1a1a" stroke-width="0.3" >150</text>
<line x1="57.7" y1="473.7" x2="61.5" y2="473.7" stroke="#1a1a1a" stroke-width="1.6" />
<line x1="57.7" y1="463.9" x2="61.5" y2="463.9" stroke="#1a1a1a" stroke-width="1.6" />
<line x1="57.7" y1="454.0" x2="61.5" y2="454.0" stroke="#1a1a1a" stroke-width="1.6" />
<line x1="57.7" y1="444.2" x2="61.5" y2="444.2" stroke="#1a1a1a" stroke-width="1.6" />
<line x1="54.5" y1="434.3" x2="61.5" y2="434.3" stroke="#1a1a1a" stroke-width="2.0" />
<text x="51.0" y="439.5" font-size="15.0" text-anchor="end" font-weight="normal" fill="#1a1a1a" stroke="#1a1a1a" stroke-width="0.3" >200</text>
<line x1="57.7" y1="424.4" x2="61.5" y2="424.4" stroke="#1a1a1a" stroke-width="1.6" />
<line x1="57.7" y1="414.6" x2="61.5" y2="414.6" stroke="#1a1a1a" stroke-width="1.6" />
<line x1="57.7" y1="404.7" x2="61.5" y2="404.7" stroke="#1a1a1a" stroke-width="1.6" />
<line x1="57.7" y1="394.9" x2="61.5" y2="394.9" stroke="#1a1a1a" stroke-width="1.6" />
<line x1="54.5" y1="385.0" x2="61.5" y2="385.0" stroke="#1a1a1a" stroke-width="2.0" />
<text x="51.0" y="390.2" font-size="15.0" text-anchor="end" font-weight="normal" fill="#1a1a1a" stroke="#1a1a1a" stroke-width="0.3" >250</text>
<line x1="61.5" y1="631.5" x2="61.5" y2="638.5" stroke="#1a1a1a" stroke-width="2.0" />
<text x="61.5" y="654.6" font-size="15.0" text-anchor="middle" font-weight="normal" fill="#1a1a1a" stroke="#1a1a1a" stroke-width="0.3" >0</text>
<line x1="71.7" y1="631.5" x2="71.7" y2="635.5" stroke="#1a1a1a" stroke-width="1.6" />
<line x1="81.9" y1="631.5" x2="81.9" y2="635.5" stroke="#1a1a1a" stroke-width="1.6" />
<line x1="92.1" y1="631.5" x2="92.1" y2="635.5" stroke="#1a1a1a" stroke-width="1.6" />
<line x1="102.2" y1="631.5" x2="102.2" y2="638.5" stroke="#1a1a1a" stroke-width="2.0" />
<text x="102.2" y="654.6" font-size="15.0" text-anchor="middle" font-weight="normal" fill="#1a1a1a" stroke="#1a1a1a" stroke-width="0.3" >100</text>
<line x1="112.4" y1="631.5" x2="112.4" y2="635.5" stroke="#1a1a1a" stroke-width="1.6" />
<line x1="122.6" y1="631.5" x2="122.6" y2="635.5" stroke="#1a1a1a" stroke-width="1.6" />
<line x1="132.8" y1="631.5" x2="132.8" y2="635.5" stroke="#1a1a1a" stroke-width="1.6" />
<line x1="143.0" y1="631.5" x2="143.0" y2="638.5" stroke="#1a1a1a" stroke-width="2.0" />
<text x="143.0" y="654.6" font-size="15.0" text-anchor="middle" font-weight="normal" fill="#1a1a1a" stroke="#1a1a1a" stroke-width="0.3" >200</text>
<line x1="153.2" y1="631.5" x2="153.2" y2="635.5" stroke="#1a1a1a" stroke-width="1.6" />
<line x1="163.4" y1="631.5" x2="163.4" y2="635.5" stroke="#1a1a1a" stroke-width="1.6" />
<line x1="173.6" y1="631.5" x2="173.6" y2="635.5" stroke="#1a1a1a" stroke-width="1.6" />
<line x1="183.8" y1="631.5" x2="183.8" y2="638.5" stroke="#1a1a1a" stroke-width="2.0" />
<text x="183.8" y="654.6" font-size="15.0" text-anchor="middle" font-weight="normal" fill="#1a1a1a" stroke="#1a1a1a" stroke-width="0.3" >300</text>
<line x1="193.9" y1="631.5" x2="193.9" y2="635.5" stroke="#1a1a1a" stroke-width="1.6" />
<line x1="204.1" y1="631.5" x2="204.1" y2="635.5" stroke="#1a1a1a" stroke-width="1.6" />
<line x1="214.3" y1="631.5" x2="214.3" y2="635.5" stroke="#1a1a1a" stroke-width="1.6" />
<line x1="224.5" y1="631.5" x2="224.5" y2="638.5" stroke="#1a1a1a" stroke-width="2.0" />
<text x="224.5" y="654.6" font-size="15.0" text-anchor="middle" font-weight="normal" fill="#1a1a1a" stroke="#1a1a1a" stroke-width="0.3" >400</text>
<line x1="234.7" y1="631.5" x2="234.7" y2="635.5" stroke="#1a1a1a" stroke-width="1.6" />
<line x1="244.9" y1="631.5" x2="244.9" y2="635.5" stroke="#1a1a1a" stroke-width="1.6" />
<line x1="255.1" y1="631.5" x2="255.1" y2="635.5" stroke="#1a1a1a" stroke-width="1.6" />
<line x1="265.2" y1="631.5" x2="265.2" y2="638.5" stroke="#1a1a1a" stroke-width="2.0" />
<text x="265.2" y="654.6" font-size="15.0" text-anchor="middle" font-weight="normal" fill="#1a1a1a" stroke="#1a1a1a" stroke-width="0.3" >500</text>
<line x1="275.4" y1="631.5" x2="275.4" y2="635.5" stroke="#1a1a1a" stroke-width="1.6" />
<line x1="285.6" y1="631.5" x2="285.6" y2="635.5" stroke="#1a1a1a" stroke-width="1.6" />
<line x1="295.8" y1="631.5" x2="295.8" y2="635.5" stroke="#1a1a1a" stroke-width="1.6" />
<line x1="306.0" y1="631.5" x2="306.0" y2="638.5" stroke="#1a1a1a" stroke-width="2.0" />
<text x="306.0" y="654.6" font-size="15.0" text-anchor="middle" font-weight="normal" fill="#1a1a1a" stroke="#1a1a1a" stroke-width="0.3" >600</text>
<text x="183.5" y="680.0" font-size="15.0" text-anchor="middle" font-weight="normal" fill="#1a1a1a" stroke="#1a1a1a" stroke-width="0.3" >BOD / mg L<tspan dy="-5" font-size="9.5">-1</tspan></text>
<text x="9.6" y="672.8" font-size="20" text-anchor="start" font-weight="bold" fill="#111" stroke="#111" stroke-width="0.15" >c)</text>
<text transform="translate(17.4,606.4) rotate(-90)" font-size="15" fill="#1a1a1a" stroke="#1a1a1a" stroke-width="0.3">Max current density / mA m<tspan dy="-5.5" font-size="9.5">-2</tspan></text>
<line x1="84.3" y1="573.8" x2="149.1" y2="473.5" stroke="#1212f6" stroke-width="1.3" stroke-dasharray="2.2 2.2"/>
<line x1="85.6" y1="631.5" x2="131.6" y2="544.7" stroke="#f2641e" stroke-width="1.3" stroke-dasharray="2.2 2.2"/>
<circle cx="84.5" cy="571.4" r="2.6" fill="#1212f6"/>
<circle cx="102.9" cy="548.3" r="2.6" fill="#1212f6"/>
<circle cx="126.8" cy="506.8" r="2.6" fill="#1212f6"/>
<line x1="147.9" y1="465.5" x2="147.9" y2="487.4" stroke="#1212f6" stroke-width="1.2" />
<line x1="145.9" y1="465.5" x2="149.9" y2="465.5" stroke="#1212f6" stroke-width="1.2" />
<line x1="145.9" y1="487.4" x2="149.9" y2="487.4" stroke="#1212f6" stroke-width="1.2" />
<circle cx="147.9" cy="476.4" r="2.6" fill="#1212f6"/>
<line x1="187.8" y1="462.6" x2="187.8" y2="474.4" stroke="#1212f6" stroke-width="1.2" />
<line x1="185.8" y1="462.6" x2="189.8" y2="462.6" stroke="#1212f6" stroke-width="1.2" />
<line x1="185.8" y1="474.4" x2="189.8" y2="474.4" stroke="#1212f6" stroke-width="1.2" />
<circle cx="187.8" cy="468.6" r="2.6" fill="#1212f6"/>
<line x1="238.6" y1="405.6" x2="238.6" y2="439.4" stroke="#1212f6" stroke-width="1.2" />
<line x1="236.6" y1="405.6" x2="240.6" y2="405.6" stroke="#1212f6" stroke-width="1.2" />
<line x1="236.6" y1="439.4" x2="240.6" y2="439.4" stroke="#1212f6" stroke-width="1.2" />
<circle cx="238.6" cy="422.3" r="2.6" fill="#1212f6"/>
<line x1="282.6" y1="438.6" x2="282.6" y2="451.9" stroke="#1212f6" stroke-width="1.2" />
<line x1="280.6" y1="438.6" x2="284.6" y2="438.6" stroke="#1212f6" stroke-width="1.2" />
<line x1="280.6" y1="451.9" x2="284.6" y2="451.9" stroke="#1212f6" stroke-width="1.2" />
<circle cx="282.6" cy="445.2" r="2.6" fill="#1212f6"/>
<circle cx="86.6" cy="629.5" r="2.3" fill="#f2641e"/>
<line x1="91.5" y1="619.5" x2="97.7" y2="619.5" stroke="#f2641e" stroke-width="1.2" />
<line x1="91.5" y1="617.7" x2="91.5" y2="621.3" stroke="#f2641e" stroke-width="1.2" />
<line x1="97.7" y1="617.7" x2="97.7" y2="621.3" stroke="#f2641e" stroke-width="1.2" />
<circle cx="94.5" cy="619.5" r="2.3" fill="#f2641e"/>
<line x1="95.9" y1="605.5" x2="102.0" y2="605.5" stroke="#f2641e" stroke-width="1.2" />
<line x1="95.9" y1="603.7" x2="95.9" y2="607.3" stroke="#f2641e" stroke-width="1.2" />
<line x1="102.0" y1="603.7" x2="102.0" y2="607.3" stroke="#f2641e" stroke-width="1.2" />
<circle cx="98.9" cy="605.5" r="2.3" fill="#f2641e"/>
<circle cx="107.3" cy="584.8" r="2.3" fill="#f2641e"/>
<line x1="126.2" y1="557.7" x2="126.2" y2="568.2" stroke="#f2641e" stroke-width="1.2" />
<line x1="124.2" y1="557.7" x2="128.2" y2="557.7" stroke="#f2641e" stroke-width="1.2" />
<line x1="124.2" y1="568.2" x2="128.2" y2="568.2" stroke="#f2641e" stroke-width="1.2" />
<line x1="124.0" y1="562.6" x2="129.2" y2="562.6" stroke="#f2641e" stroke-width="1.2" />
<line x1="124.0" y1="560.8" x2="124.0" y2="564.4" stroke="#f2641e" stroke-width="1.2" />
<line x1="129.2" y1="560.8" x2="129.2" y2="564.4" stroke="#f2641e" stroke-width="1.2" />
<circle cx="126.2" cy="562.6" r="2.3" fill="#f2641e"/>
<line x1="130.6" y1="531.9" x2="130.6" y2="557.7" stroke="#f2641e" stroke-width="1.2" />
<line x1="128.6" y1="531.9" x2="132.6" y2="531.9" stroke="#f2641e" stroke-width="1.2" />
<line x1="128.6" y1="557.7" x2="132.6" y2="557.7" stroke="#f2641e" stroke-width="1.2" />
<line x1="128.5" y1="544.5" x2="133.2" y2="544.5" stroke="#f2641e" stroke-width="1.2" />
<line x1="128.5" y1="542.7" x2="128.5" y2="546.3" stroke="#f2641e" stroke-width="1.2" />
<line x1="133.2" y1="542.7" x2="133.2" y2="546.3" stroke="#f2641e" stroke-width="1.2" />
<circle cx="130.6" cy="544.5" r="2.3" fill="#f2641e"/>
<line x1="75.8" y1="396.7" x2="94.8" y2="396.7" stroke="#f2641e" stroke-width="1.6" stroke-dasharray="1.6 2.2" stroke-opacity="0.8"/>
<circle cx="85.2" cy="396.7" r="2.4" fill="#f2641e"/>
<line x1="75.8" y1="409.9" x2="94.8" y2="409.9" stroke="#1212f6" stroke-width="1.6" stroke-dasharray="1.6 2.2" stroke-opacity="0.8"/>
<rect x="83" y="407.7" width="4.4" height="4.4" fill="#1212f6"/>
<text x="105.8" y="400.8" font-size="12.1" text-anchor="start" font-weight="normal" fill="#222" stroke="#222" stroke-width="0.3" >RWW</text>
<text x="105.8" y="414.0" font-size="12.1" text-anchor="start" font-weight="normal" fill="#222" stroke="#222" stroke-width="0.3" >SWW</text>
<text x="143.2" y="503.9" font-size="10.6" text-anchor="start" font-weight="bold" fill="#1212f6" stroke="#1212f6" stroke-width="0.15" >y=0.64x+22.63</text>
<text x="143.2" y="517.0" font-size="10.6" text-anchor="start" font-weight="bold" fill="#1212f6" stroke="#1212f6" stroke-width="0.15" >R<tspan dy="-4" font-size="7">2</tspan><tspan dy="4">=0.95</tspan></text>
<text x="114.3" y="599.2" font-size="10.6" text-anchor="start" font-weight="bold" fill="#f2641e" stroke="#f2641e" stroke-width="0.15" >y=0.78x-46.10</text>
<text x="114.3" y="612.4" font-size="10.6" text-anchor="start" font-weight="bold" fill="#f2641e" stroke="#f2641e" stroke-width="0.15" >R<tspan dy="-4" font-size="7">2</tspan><tspan dy="4">=0.91</tspan></text>
<line x1="419.9" y1="375.1" x2="419.9" y2="628.9" stroke="#1a1a1a" stroke-width="2.0" />
<line x1="418.9" y1="627.9" x2="672.3" y2="627.9" stroke="#1a1a1a" stroke-width="2.0" />
<line x1="412.6" y1="627.9" x2="419.9" y2="627.9" stroke="#1a1a1a" stroke-width="2.0" />
<text x="410.5" y="633.1" font-size="15.0" text-anchor="end" font-weight="normal" fill="#1a1a1a" stroke="#1a1a1a" stroke-width="0.3" >0</text>
<line x1="416.1" y1="617.8" x2="419.9" y2="617.8" stroke="#1a1a1a" stroke-width="1.6" />
<line x1="416.1" y1="607.8" x2="419.9" y2="607.8" stroke="#1a1a1a" stroke-width="1.6" />
<line x1="416.1" y1="597.7" x2="419.9" y2="597.7" stroke="#1a1a1a" stroke-width="1.6" />
<line x1="416.1" y1="587.6" x2="419.9" y2="587.6" stroke="#1a1a1a" stroke-width="1.6" />
<line x1="412.6" y1="577.5" x2="419.9" y2="577.5" stroke="#1a1a1a" stroke-width="2.0" />
<text x="410.5" y="582.7" font-size="15.0" text-anchor="end" font-weight="normal" fill="#1a1a1a" stroke="#1a1a1a" stroke-width="0.3" >2</text>
<line x1="416.1" y1="567.5" x2="419.9" y2="567.5" stroke="#1a1a1a" stroke-width="1.6" />
<line x1="416.1" y1="557.4" x2="419.9" y2="557.4" stroke="#1a1a1a" stroke-width="1.6" />
<line x1="416.1" y1="547.3" x2="419.9" y2="547.3" stroke="#1a1a1a" stroke-width="1.6" />
<line x1="416.1" y1="537.3" x2="419.9" y2="537.3" stroke="#1a1a1a" stroke-width="1.6" />
<line x1="412.6" y1="527.2" x2="419.9" y2="527.2" stroke="#1a1a1a" stroke-width="2.0" />
<text x="410.5" y="532.4" font-size="15.0" text-anchor="end" font-weight="normal" fill="#1a1a1a" stroke="#1a1a1a" stroke-width="0.3" >4</text>
<line x1="416.1" y1="517.1" x2="419.9" y2="517.1" stroke="#1a1a1a" stroke-width="1.6" />
<line x1="416.1" y1="507.0" x2="419.9" y2="507.0" stroke="#1a1a1a" stroke-width="1.6" />
<line x1="416.1" y1="497.0" x2="419.9" y2="497.0" stroke="#1a1a1a" stroke-width="1.6" />
<line x1="416.1" y1="486.9" x2="419.9" y2="486.9" stroke="#1a1a1a" stroke-width="1.6" />
<line x1="412.6" y1="476.8" x2="419.9" y2="476.8" stroke="#1a1a1a" stroke-width="2.0" />
<text x="410.5" y="482.0" font-size="15.0" text-anchor="end" font-weight="normal" fill="#1a1a1a" stroke="#1a1a1a" stroke-width="0.3" >6</text>
<line x1="416.1" y1="466.7" x2="419.9" y2="466.7" stroke="#1a1a1a" stroke-width="1.6" />
<line x1="416.1" y1="456.7" x2="419.9" y2="456.7" stroke="#1a1a1a" stroke-width="1.6" />
<line x1="416.1" y1="446.6" x2="419.9" y2="446.6" stroke="#1a1a1a" stroke-width="1.6" />
<line x1="416.1" y1="436.5" x2="419.9" y2="436.5" stroke="#1a1a1a" stroke-width="1.6" />
<line x1="412.6" y1="426.5" x2="419.9" y2="426.5" stroke="#1a1a1a" stroke-width="2.0" />
<text x="410.5" y="431.7" font-size="15.0" text-anchor="end" font-weight="normal" fill="#1a1a1a" stroke="#1a1a1a" stroke-width="0.3" >8</text>
<line x1="416.1" y1="416.4" x2="419.9" y2="416.4" stroke="#1a1a1a" stroke-width="1.6" />
<line x1="416.1" y1="406.3" x2="419.9" y2="406.3" stroke="#1a1a1a" stroke-width="1.6" />
<line x1="416.1" y1="396.2" x2="419.9" y2="396.2" stroke="#1a1a1a" stroke-width="1.6" />
<line x1="416.1" y1="386.2" x2="419.9" y2="386.2" stroke="#1a1a1a" stroke-width="1.6" />
<line x1="412.6" y1="376.1" x2="419.9" y2="376.1" stroke="#1a1a1a" stroke-width="2.0" />
<text x="410.5" y="381.3" font-size="15.0" text-anchor="end" font-weight="normal" fill="#1a1a1a" stroke="#1a1a1a" stroke-width="0.3" >10</text>
<line x1="419.9" y1="627.9" x2="419.9" y2="634.9" stroke="#1a1a1a" stroke-width="2.0" />
<text x="419.9" y="652.0" font-size="15.0" text-anchor="middle" font-weight="normal" fill="#1a1a1a" stroke="#1a1a1a" stroke-width="0.3" >0</text>
<line x1="430.4" y1="627.9" x2="430.4" y2="631.9" stroke="#1a1a1a" stroke-width="1.6" />
<line x1="440.8" y1="627.9" x2="440.8" y2="631.9" stroke="#1a1a1a" stroke-width="1.6" />
<line x1="451.3" y1="627.9" x2="451.3" y2="631.9" stroke="#1a1a1a" stroke-width="1.6" />
<line x1="461.8" y1="627.9" x2="461.8" y2="634.9" stroke="#1a1a1a" stroke-width="2.0" />
<text x="461.8" y="652.0" font-size="15.0" text-anchor="middle" font-weight="normal" fill="#1a1a1a" stroke="#1a1a1a" stroke-width="0.3" >100</text>
<line x1="472.3" y1="627.9" x2="472.3" y2="631.9" stroke="#1a1a1a" stroke-width="1.6" />
<line x1="482.8" y1="627.9" x2="482.8" y2="631.9" stroke="#1a1a1a" stroke-width="1.6" />
<line x1="493.2" y1="627.9" x2="493.2" y2="631.9" stroke="#1a1a1a" stroke-width="1.6" />
<line x1="503.7" y1="627.9" x2="503.7" y2="634.9" stroke="#1a1a1a" stroke-width="2.0" />
<text x="503.7" y="652.0" font-size="15.0" text-anchor="middle" font-weight="normal" fill="#1a1a1a" stroke="#1a1a1a" stroke-width="0.3" >200</text>
<line x1="514.2" y1="627.9" x2="514.2" y2="631.9" stroke="#1a1a1a" stroke-width="1.6" />
<line x1="524.6" y1="627.9" x2="524.6" y2="631.9" stroke="#1a1a1a" stroke-width="1.6" />
<line x1="535.1" y1="627.9" x2="535.1" y2="631.9" stroke="#1a1a1a" stroke-width="1.6" />
<line x1="545.6" y1="627.9" x2="545.6" y2="634.9" stroke="#1a1a1a" stroke-width="2.0" />
<text x="545.6" y="652.0" font-size="15.0" text-anchor="middle" font-weight="normal" fill="#1a1a1a" stroke="#1a1a1a" stroke-width="0.3" >300</text>
<line x1="556.1" y1="627.9" x2="556.1" y2="631.9" stroke="#1a1a1a" stroke-width="1.6" />
<line x1="566.5" y1="627.9" x2="566.5" y2="631.9" stroke="#1a1a1a" stroke-width="1.6" />
<line x1="577.0" y1="627.9" x2="577.0" y2="631.9" stroke="#1a1a1a" stroke-width="1.6" />
<line x1="587.5" y1="627.9" x2="587.5" y2="634.9" stroke="#1a1a1a" stroke-width="2.0" />
<text x="587.5" y="652.0" font-size="15.0" text-anchor="middle" font-weight="normal" fill="#1a1a1a" stroke="#1a1a1a" stroke-width="0.3" >400</text>
<line x1="598.0" y1="627.9" x2="598.0" y2="631.9" stroke="#1a1a1a" stroke-width="1.6" />
<line x1="608.4" y1="627.9" x2="608.4" y2="631.9" stroke="#1a1a1a" stroke-width="1.6" />
<line x1="618.9" y1="627.9" x2="618.9" y2="631.9" stroke="#1a1a1a" stroke-width="1.6" />
<line x1="629.4" y1="627.9" x2="629.4" y2="634.9" stroke="#1a1a1a" stroke-width="2.0" />
<text x="629.4" y="652.0" font-size="15.0" text-anchor="middle" font-weight="normal" fill="#1a1a1a" stroke="#1a1a1a" stroke-width="0.3" >500</text>
<line x1="639.9" y1="627.9" x2="639.9" y2="631.9" stroke="#1a1a1a" stroke-width="1.6" />
<line x1="650.3" y1="627.9" x2="650.3" y2="631.9" stroke="#1a1a1a" stroke-width="1.6" />
<line x1="660.8" y1="627.9" x2="660.8" y2="631.9" stroke="#1a1a1a" stroke-width="1.6" />
<line x1="671.3" y1="627.9" x2="671.3" y2="634.9" stroke="#1a1a1a" stroke-width="2.0" />
<text x="671.3" y="652.0" font-size="15.0" text-anchor="middle" font-weight="normal" fill="#1a1a1a" stroke="#1a1a1a" stroke-width="0.3" >600</text>
<text x="545.3" y="677.8" font-size="15.0" text-anchor="middle" font-weight="normal" fill="#1a1a1a" stroke="#1a1a1a" stroke-width="0.3" >BOD / mg L<tspan dy="-5" font-size="9.5">-1</tspan></text>
<text x="377.2" y="672.8" font-size="20" text-anchor="start" font-weight="bold" fill="#111" stroke="#111" stroke-width="0.15" >d)</text>
<text transform="translate(385.3,578.1) rotate(-90)" font-size="15" fill="#1a1a1a" stroke="#1a1a1a" stroke-width="0.3">Coulombic Efficiency %</text>
<line x1="443.4" y1="421.4" x2="443.4" y2="465.5" stroke="#1212f6" stroke-width="1.2" />
<line x1="441.4" y1="421.4" x2="445.4" y2="421.4" stroke="#1212f6" stroke-width="1.2" />
<line x1="441.4" y1="465.5" x2="445.4" y2="465.5" stroke="#1212f6" stroke-width="1.2" />
<rect x="441.1" y="441.3" width="4.6" height="4.6" rx="1.2" fill="#1212f6"/>
<line x1="462.6" y1="492.4" x2="462.6" y2="496.5" stroke="#1212f6" stroke-width="1.2" />
<line x1="460.6" y1="492.4" x2="464.6" y2="492.4" stroke="#1212f6" stroke-width="1.2" />
<line x1="460.6" y1="496.5" x2="464.6" y2="496.5" stroke="#1212f6" stroke-width="1.2" />
<rect x="460.3" y="492.1" width="4.6" height="4.6" rx="1.2" fill="#1212f6"/>
<line x1="486.9" y1="495.5" x2="486.9" y2="511.6" stroke="#1212f6" stroke-width="1.2" />
<line x1="484.9" y1="495.5" x2="488.9" y2="495.5" stroke="#1212f6" stroke-width="1.2" />
<line x1="484.9" y1="511.6" x2="488.9" y2="511.6" stroke="#1212f6" stroke-width="1.2" />
<rect x="484.6" y="501.5" width="4.6" height="4.6" rx="1.2" fill="#1212f6"/>
<line x1="508.7" y1="512.6" x2="508.7" y2="528.4" stroke="#1212f6" stroke-width="1.2" />
<line x1="506.7" y1="512.6" x2="510.7" y2="512.6" stroke="#1212f6" stroke-width="1.2" />
<line x1="506.7" y1="528.4" x2="510.7" y2="528.4" stroke="#1212f6" stroke-width="1.2" />
<rect x="506.4" y="518.6" width="4.6" height="4.6" rx="1.2" fill="#1212f6"/>
<line x1="549.4" y1="546.8" x2="549.4" y2="554.9" stroke="#1212f6" stroke-width="1.2" />
<line x1="547.4" y1="546.8" x2="551.4" y2="546.8" stroke="#1212f6" stroke-width="1.2" />
<line x1="547.4" y1="554.9" x2="551.4" y2="554.9" stroke="#1212f6" stroke-width="1.2" />
<rect x="547.1" y="548.5" width="4.6" height="4.6" rx="1.2" fill="#1212f6"/>
<rect x="599.4" y="555.1" width="4.6" height="4.6" rx="1.2" fill="#1212f6"/>
<line x1="647.0" y1="581.6" x2="647.0" y2="586.1" stroke="#1212f6" stroke-width="1.2" />
<line x1="645.0" y1="581.6" x2="649.0" y2="581.6" stroke="#1212f6" stroke-width="1.2" />
<line x1="645.0" y1="586.1" x2="649.0" y2="586.1" stroke="#1212f6" stroke-width="1.2" />
<rect x="644.7" y="581.8" width="4.6" height="4.6" rx="1.2" fill="#1212f6"/>
<line x1="443.0" y1="625.8" x2="450.0" y2="625.8" stroke="#f2641e" stroke-width="1.2" />
<line x1="443.0" y1="624.0" x2="443.0" y2="627.6" stroke="#f2641e" stroke-width="1.2" />
<line x1="450.0" y1="624.0" x2="450.0" y2="627.6" stroke="#f2641e" stroke-width="1.2" />
<circle cx="446.4" cy="625.8" r="2.3" fill="#f2641e"/>
<line x1="449.8" y1="616.2" x2="457.2" y2="616.2" stroke="#f2641e" stroke-width="1.2" />
<line x1="449.8" y1="614.4" x2="449.8" y2="618.0" stroke="#f2641e" stroke-width="1.2" />
<line x1="457.2" y1="614.4" x2="457.2" y2="618.0" stroke="#f2641e" stroke-width="1.2" />
<circle cx="453.6" cy="616.2" r="2.3" fill="#f2641e"/>
<line x1="455.2" y1="608.0" x2="461.7" y2="608.0" stroke="#f2641e" stroke-width="1.2" />
<line x1="455.2" y1="606.2" x2="455.2" y2="609.8" stroke="#f2641e" stroke-width="1.2" />
<line x1="461.7" y1="606.2" x2="461.7" y2="609.8" stroke="#f2641e" stroke-width="1.2" />
<circle cx="458.7" cy="608" r="2.3" fill="#f2641e"/>
<circle cx="467.5" cy="601.3" r="2.3" fill="#f2641e"/>
<circle cx="486.7" cy="595.2" r="2.3" fill="#f2641e"/>
<circle cx="491.4" cy="590.7" r="2.3" fill="#f2641e"/>
<line x1="486.7" y1="589.5" x2="486.7" y2="600.8" stroke="#f2641e" stroke-width="1.2" />
<line x1="484.7" y1="589.5" x2="488.7" y2="589.5" stroke="#f2641e" stroke-width="1.2" />
<line x1="484.7" y1="600.8" x2="488.7" y2="600.8" stroke="#f2641e" stroke-width="1.2" />
<line x1="483.5" y1="595.2" x2="490.0" y2="595.2" stroke="#f2641e" stroke-width="1.2" />
<line x1="483.5" y1="593.4" x2="483.5" y2="597.0" stroke="#f2641e" stroke-width="1.2" />
<line x1="490.0" y1="593.4" x2="490.0" y2="597.0" stroke="#f2641e" stroke-width="1.2" />
<circle cx="493.5" cy="590.3" r="2.3" fill="#f2641e"/>
<circle cx="434.6" cy="388.4" r="2.3" fill="#f2641e"/>
<rect x="432.3" y="400.7" width="4.6" height="4.6" fill="#1212f6"/>
<text x="455.6" y="392.8" font-size="12.2" text-anchor="start" font-weight="normal" fill="#222" stroke="#222" stroke-width="0.3" >RWW</text>
<text x="455.6" y="406.8" font-size="12.2" text-anchor="start" font-weight="normal" fill="#222" stroke="#222" stroke-width="0.3" >SWW</text>
</svg></body></html>
